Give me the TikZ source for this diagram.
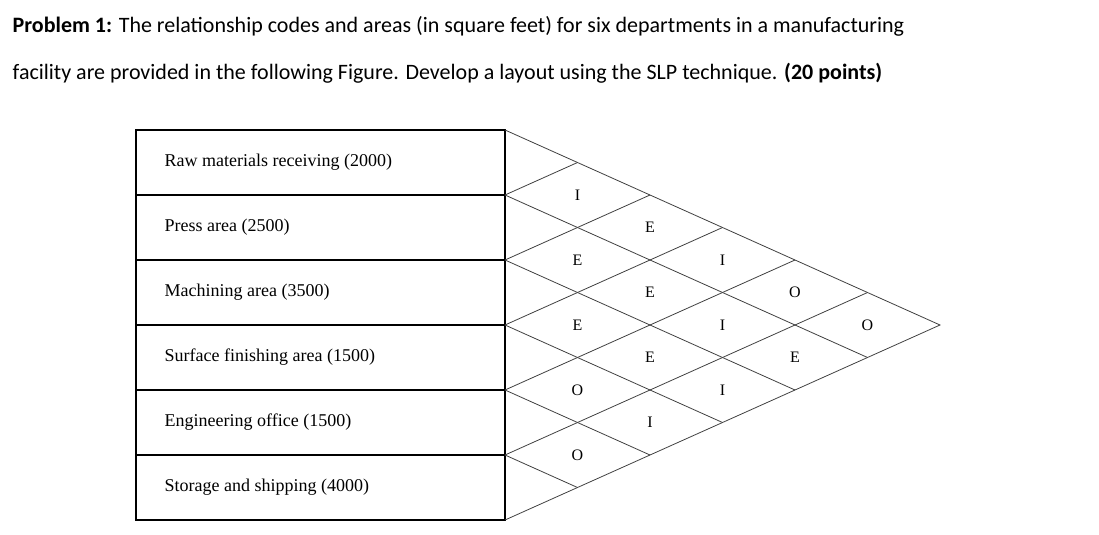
\documentclass[tikz,border=0pt]{standalone}
\usepackage{fontspec}
\setmainfont{Liberation Serif}
\newfontfamily\titlefont{Carlito}
\begin{document}
\begin{tikzpicture}[x=0.75pt,y=-0.75pt,
  cell/.style={font=\fontsize{13.5}{15}\selectfont,anchor=west},
  code/.style={font=\fontsize{12}{14}\selectfont},
  grid/.style={draw=black!75,line width=0.6pt}]
\useasboundingbox (0,0) rectangle (1099,535);
\node[anchor=west,font=\titlefont\fontsize{16.5}{20}\selectfont] (t1) at (8,26) {\textbf{Problem 1:} The relationship codes and areas (in square feet) for six departments in a manufacturing};
\node[anchor=west,font=\titlefont\fontsize{16.5}{20}\selectfont] (t2) at (8,73) {facility are provided in the following Figure. Develop a layout using the SLP technique. \textbf{(20 points)}};
% table
\foreach \i/\t in {0/Raw materials receiving (2000),1/Press area (2500),2/Machining area (3500),3/Surface finishing area (1500),4/Engineering office (1500),5/Storage and shipping (4000)}{
  \draw[line width=0.9pt] (136,130+65*\i) rectangle (505,195+65*\i);
  \node[cell] (r\i) at (160,162.5+65*\i) {\t};
}
% chart
\coordinate (top) at (505,130);
\coordinate (bot) at (505,520);
\coordinate (apex) at (940,325);
\draw[grid] (top) -- (apex) -- (bot);
\foreach \k in {1,...,5}{
  \pgfmathsetmacro\sy{130+65*\k}
  \pgfmathsetmacro\dx{505+72.5*(6-\k)}
  \pgfmathsetmacro\dy{130+32.5*(6+\k)}
  \pgfmathsetmacro\ux{505+72.5*\k}
  \pgfmathsetmacro\uy{130+32.5*\k}
  \coordinate (s\k) at (505,\sy);
  \coordinate (d\k) at (\dx,\dy);
  \coordinate (u\k) at (\ux,\uy);
  \draw[grid] (s\k) -- (d\k);
  \draw[grid] (s\k) -- (u\k);
}
\foreach \c/\h/\l in {1/2/I,1/4/E,1/6/E,1/8/O,1/10/O,
  2/3/E,2/5/E,2/7/E,2/9/I,3/4/I,3/6/I,3/8/I,4/5/O,4/7/E,5/6/O}{
  \pgfmathsetmacro\lx{505+72.5*\c}
  \pgfmathsetmacro\ly{130+32.5*\h}
  \node[code] (c\c-\h) at (\lx,\ly) {\l};
}
\end{tikzpicture}
\end{document}
